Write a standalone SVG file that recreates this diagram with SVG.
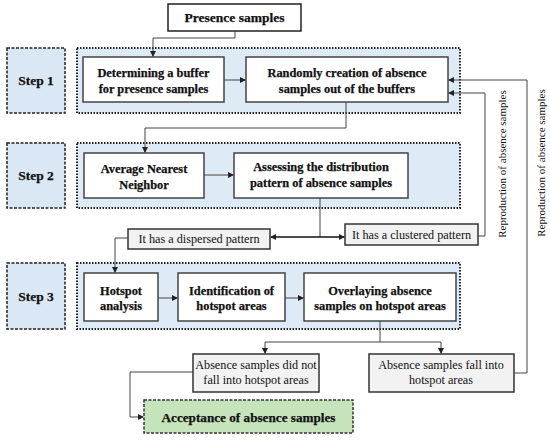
<svg xmlns="http://www.w3.org/2000/svg" width="550" height="441" viewBox="0 0 550 441">
<defs>
<marker id="ah" markerWidth="6" markerHeight="6" refX="5" refY="3" orient="auto" markerUnits="userSpaceOnUse">
<path d="M0,0 L6,3 L0,6 Z" fill="#222"/>
</marker>
<style>
.step{fill:#dae8f5;stroke:#222;stroke-width:1.5;stroke-dasharray:3,1.5}
.cont{fill:#deebf7;stroke:#222;stroke-width:2;stroke-dasharray:1.5,1.5}
.box{fill:#fff;stroke:#444;stroke-width:1.5}
.gbox{fill:#f2f2f2;stroke:#333;stroke-width:1.5}
.acc{fill:#c6e4bc;stroke:#333;stroke-width:1.5;stroke-dasharray:3,1.5}
text{font-family:'Liberation Serif','Times New Roman',serif;fill:#111;text-anchor:middle}
.b{font-weight:bold;font-size:12.4px;stroke:#111;stroke-width:0.25}
.s{font-weight:bold;font-size:13.5px;stroke:#111;stroke-width:0.25}
.r{font-size:12.2px}
.rot{font-size:11px}
.ln{fill:none;stroke:#444;stroke-width:1}
</style>
</defs>
<rect width="550" height="441" fill="#fff"/>

<g id="step1-label"><rect class="step" x="7" y="48" width="58" height="65"/><text class="s" x="36" y="85">Step 1</text></g>
<g id="step1-container"><rect class="cont" x="77" y="48" width="383" height="65"/></g>
<g id="step2-label"><rect class="step" x="7" y="143" width="58" height="65"/><text class="s" x="36" y="180">Step 2</text></g>
<g id="step2-container"><rect class="cont" x="77" y="143" width="383" height="65"/></g>
<g id="step3-label"><rect class="step" x="7" y="263" width="58" height="66"/><text class="s" x="36" y="301">Step 3</text></g>
<g id="step3-container"><rect class="cont" x="77" y="263" width="383" height="66"/></g>

<g id="presence"><rect class="box" x="168" y="4" width="133" height="27" style="stroke:#222"/><text class="s" x="234.5" y="22">Presence samples</text></g>

<g id="buffer"><rect class="box" x="83" y="57" width="141" height="45"/><text class="b" x="153.5" y="77">Determining a buffer</text><text class="b" x="153.5" y="93">for presence samples</text></g>
<g id="random"><rect class="box" x="246" y="57" width="202" height="45"/><text class="b" x="347" y="77">Randomly creation of absence</text><text class="b" x="347" y="93">samples out of the buffers</text></g>

<g id="ann"><rect class="box" x="84" y="153" width="120" height="45"/><text class="b" x="144" y="173">Average Nearest</text><text class="b" x="144" y="189">Neighbor</text></g>
<g id="assess"><rect class="box" x="234" y="153" width="174" height="45"/><text class="b" x="321" y="171">Assessing the distribution</text><text class="b" x="321" y="187">pattern of absence samples</text></g>

<g id="dispersed"><rect class="gbox" x="128" y="229" width="142" height="20"/><text class="r" x="199" y="243">It has a dispersed pattern</text></g>
<g id="clustered"><rect class="gbox" x="345" y="224" width="133" height="21"/><text class="r" x="411.5" y="239">It has a clustered pattern</text></g>

<g id="hotspot"><rect class="box" x="84" y="273" width="74" height="48"/><text class="b" x="121" y="295">Hotspot</text><text class="b" x="121" y="310">analysis</text></g>
<g id="identify"><rect class="box" x="178" y="273" width="107" height="48"/><text class="b" x="231.5" y="295">Identification of</text><text class="b" x="231.5" y="310">hotspot areas</text></g>
<g id="overlay"><rect class="box" x="304" y="273" width="152" height="48"/><text class="b" x="380" y="295">Overlaying absence</text><text class="b" x="380" y="310">samples on hotspot areas</text></g>

<g id="notfall"><rect class="gbox" x="193" y="354" width="126" height="38"/><text class="r" x="256" y="369">Absence samples did not</text><text class="r" x="256" y="384">fall into hotspot areas</text></g>
<g id="fall"><rect class="gbox" x="369" y="354" width="145" height="38"/><text class="r" x="441" y="369">Absence samples fall into</text><text class="r" x="441" y="384">hotspot areas</text></g>

<g id="accept"><rect class="acc" x="144" y="400" width="209" height="33"/><text class="b" x="248.5" y="422" style="font-size:13.2px">Acceptance of absence samples</text></g>

<g id="labels">
<text class="rot" transform="translate(506,164) rotate(-90)">Reproduction of absence samples</text>
<text class="rot" transform="translate(545,163) rotate(-90)">Reproduction of absence samples</text>
</g>

<g id="connectors">
<polyline class="ln" points="235,31 235,38 153,38 153,56" marker-end="url(#ah)"/>
<line class="ln" x1="224" y1="80" x2="245" y2="80" marker-end="url(#ah)"/>
<polyline class="ln" points="346,102 346,128 145,128 145,152" marker-end="url(#ah)"/>
<line class="ln" x1="204" y1="175" x2="233" y2="175" marker-end="url(#ah)"/>
<line class="ln" x1="320" y1="198" x2="320" y2="237"/>
<line x1="271" y1="237" x2="344" y2="237" stroke="#111" stroke-width="1.5" marker-end="url(#ah)"/>
<path d="M276,234 L270,237 L276,240 Z" fill="#222"/>
<polyline class="ln" points="478,236 485,236 485,93 449,93" marker-end="url(#ah)"/>
<polyline class="ln" points="128,238 115,238 115,272" marker-end="url(#ah)"/>
<line class="ln" x1="158" y1="298" x2="177" y2="298" marker-end="url(#ah)"/>
<line class="ln" x1="285" y1="298" x2="303" y2="298" marker-end="url(#ah)"/>
<line class="ln" x1="380" y1="321" x2="380" y2="342"/>
<polyline class="ln" points="265,353 265,342 441,342 441,353" marker-end="url(#ah)"/>
<path d="M262,348 L265,354 L268,348 Z" fill="#222"/>
<polyline class="ln" points="514,373 527,373 527,80 449,80" marker-end="url(#ah)"/>
<polyline class="ln" points="193,372 130,372 130,417 143,417" marker-end="url(#ah)"/>
</g>
</svg>
